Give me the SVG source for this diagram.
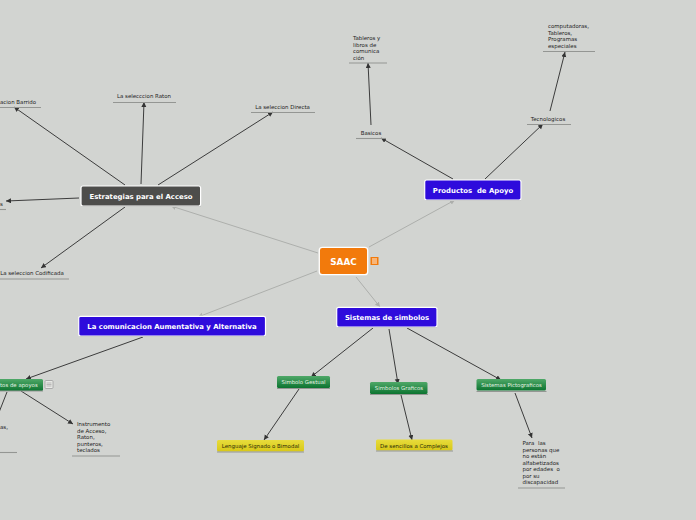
<svg xmlns="http://www.w3.org/2000/svg" width="696" height="520" viewBox="0 0 696 520">
<style>
text{font-family:"DejaVu Sans",Verdana,sans-serif}
.main{font-size:6.9px;font-weight:bold;fill:#fff;text-anchor:middle}
.blue{fill:#2e0bdc;stroke:#fff;stroke-width:1.2}
.shadow{fill:#9a9c99}
.sub{font-size:5.45px;fill:#222}
.mid{text-anchor:middle}
.green{font-size:5.4px;fill:#e4f2e4;text-anchor:middle}
.yellow{font-size:5.45px;fill:#2a2a08;text-anchor:middle}
.ul{stroke:#949693;stroke-width:1.1;fill:none}
.c1{stroke:#adafac;stroke-width:1;fill:none;marker-end:url(#ah1)}
.c2{stroke:#3c3c3c;stroke-width:1;fill:none;marker-end:url(#ah2)}
</style>
<defs>
<linearGradient id="gg" x1="0" y1="0" x2="0" y2="1"><stop offset="0" stop-color="#4fa868"/><stop offset="1" stop-color="#0c7430"/></linearGradient>
<linearGradient id="yg" x1="0" y1="0" x2="0" y2="1"><stop offset="0" stop-color="#e8dc3c"/><stop offset="1" stop-color="#d8c818"/></linearGradient>
<marker id="ah1" markerUnits="userSpaceOnUse" markerWidth="6" markerHeight="6" refX="5" refY="2.500" orient="auto"><path d="M0 0L5 2.500L0 5z" fill="#adafac"/></marker>
<marker id="ah2" markerUnits="userSpaceOnUse" markerWidth="6" markerHeight="6" refX="5" refY="2.500" orient="auto"><path d="M0 0L5 2.500L0 5z" fill="#333"/></marker>
</defs>
<rect width="696" height="520" fill="#d2d4d1"/>
<g id="connectors">
<path class="c1" d="M318 253L171 206"/>
<path class="c1" d="M317 271L198 317"/>
<path class="c1" d="M369 247L455 200"/>
<path class="c1" d="M356 277L380 307"/>
<path class="c2" d="M125 185L14 107"/>
<path class="c2" d="M141 184L144 102"/>
<path class="c2" d="M158 185L273 112"/>
<path class="c2" d="M79 198L6 201"/>
<path class="c2" d="M125 207L41 268"/>
<path class="c2" d="M143 337L26 379"/>
<path class="c2" d="M21 391L73 424"/>
<path class="c2" d="M7 392L-4 420"/>
<path class="c2" d="M453 179L381 138"/>
<path class="c2" d="M485 179L543 124"/>
<path class="c2" d="M371 125L368 63"/>
<path class="c2" d="M550 111L565 52"/>
<path class="c2" d="M373 328L311 377"/>
<path class="c2" d="M389 329L398 384"/>
<path class="c2" d="M407 328L501 380"/>
<path class="c2" d="M299 389L264 440"/>
<path class="c2" d="M401 395L412 440"/>
<path class="c2" d="M515 393L532 438"/>
</g>
<g id="saac"><rect x="319.300" y="247.300" width="48.400" height="27.400" rx="3" fill="#f27a0c" stroke="#fff" stroke-width="1.300"/><text x="343.500" y="265" class="main" style="font-size:8.800px">SAAC</text>
<rect x="370.500" y="257" width="8" height="8" fill="#f27a0c"/><path d="M372 259h5M372 261h5M372 263h5" stroke="#fff" stroke-width=".9"/></g>
<g id="estrategias"><rect x="81" y="187" width="120" height="20" rx="2" class="shadow"/><rect x="81" y="186" width="119.600" height="20" rx="2" fill="#4d4d4b" stroke="#fff" stroke-width="1.200"/><text x="141" y="199" class="main">Estrategias para el Acceso</text></g>
<g id="comunicacion"><rect x="78.700" y="317" width="187" height="20" rx="2" class="shadow"/><rect x="78.700" y="316.300" width="186.800" height="19.700" rx="2" class="blue"/><text x="172" y="329" class="main">La comunicacion Aumentativa y Alternativa</text></g>
<g id="productos"><rect x="424.700" y="181" width="96.500" height="20" rx="2" class="shadow"/><rect x="424.700" y="180" width="96.300" height="20" rx="2" class="blue"/><text x="473" y="193" class="main" xml:space="preserve">Productos  de Apoyo</text></g>
<g id="sistemas"><rect x="336.700" y="308" width="100.500" height="20" rx="2" class="shadow"/><rect x="336.700" y="307.300" width="100.300" height="19.700" rx="2" class="blue"/><text x="387" y="320" class="main">Sistemas de simbolos</text></g>
<g id="barrido"><text x="0" y="104" class="sub">acion Barrido</text><path class="ul" d="M0 107.500H41"/></g>
<g id="raton"><text x="144" y="98" class="sub mid">La selecccion Raton</text><path class="ul" d="M113 102.500H176"/></g>
<g id="directa"><text x="282.500" y="109" class="sub mid">La seleccion Directa</text><path class="ul" d="M251 112.500H315"/></g>
<g id="clipped"><text x="0" y="206" class="sub">s</text><path class="ul" d="M0 209.500H6"/></g>
<g id="codificada"><text x="32" y="275" class="sub mid">La seleccion Codificada</text><path class="ul" d="M0 279H69"/></g>
<g id="tableros"><text class="sub"><tspan x="353" y="40">Tableros y</tspan><tspan x="353" y="46.500">libros de</tspan><tspan x="353" y="53">comunica</tspan><tspan x="353" y="59.500">ción</tspan></text><path class="ul" d="M349 63H387"/></g>
<g id="basicos"><text x="371" y="135" class="sub mid">Basicos</text><path class="ul" d="M356 138.500H386"/></g>
<g id="computadoras"><text class="sub"><tspan x="548" y="28">computadoras,</tspan><tspan x="548" y="35">Tableros,</tspan><tspan x="548" y="41">Programas</tspan><tspan x="548" y="48">especiales</tspan></text><path class="ul" d="M543 51.500H595"/></g>
<g id="tecnologicos"><text x="548" y="121" class="sub mid">Tecnologicos</text><path class="ul" d="M527 124.500H571"/></g>
<g id="apoyos"><rect x="-4" y="379" width="47" height="12" rx="1.500" fill="url(#gg)"/><path class="ul" d="M0 391H43"/><text x="0" y="387" style="font-size:5.400px;fill:#e4f2e4">tos de apoyos</text>
<rect x="45" y="380.500" width="8" height="8" rx="1" fill="#e8e9e6" stroke="#a5a5a5" stroke-width=".9"/><path d="M46.500 383h5M46.500 384.500h5M46.500 386h5" stroke="#999" stroke-width=".6"/></g>
<g id="clipped2"><text x="0" y="429" class="sub">as,</text><path class="ul" d="M0 452.500H17"/></g>
<g id="instrumento"><text class="sub"><tspan x="77" y="426">Instrumento</tspan><tspan x="77" y="433">de Acceso,</tspan><tspan x="77" y="439">Raton,</tspan><tspan x="77" y="446">punteros,</tspan><tspan x="77" y="452">teclados</tspan></text><path class="ul" d="M72 456H120"/></g>
<g id="gestual"><rect x="277" y="376" width="53" height="12" rx="1.500" fill="url(#gg)"/><path class="ul" d="M277 388.500H330"/><text x="303.500" y="384" class="green">Simbolo Gestual</text></g>
<g id="graficos"><rect x="370" y="382" width="57.500" height="12" rx="1.500" fill="url(#gg)"/><path class="ul" d="M370 394.500H428"/><text x="399" y="390" class="green">Simbolos Graficos</text></g>
<g id="pictograficos"><rect x="476.500" y="379" width="69.500" height="11.500" rx="1.500" fill="url(#gg)"/><path class="ul" d="M476.500 391.500H546.500"/><text x="511.500" y="387" class="green">Sistemas Pictograficos</text></g>
<g id="lenguaje"><rect x="217" y="440" width="87" height="11.500" rx="1.500" fill="url(#yg)"/><path class="ul" d="M217 452H304"/><text x="260.500" y="448" class="yellow">Lenguaje Signado o Bimodal</text></g>
<g id="sencillos"><rect x="376" y="439.500" width="76.500" height="11" rx="1.500" fill="url(#yg)"/><path class="ul" d="M376 451H453"/><text x="414" y="447.500" class="yellow">De sencillos a Complejos</text></g>
<g id="personas"><text class="sub" xml:space="preserve"><tspan x="522.500" y="445">Para  las</tspan><tspan x="522.500" y="452">personas que</tspan><tspan x="522.500" y="458">no están</tspan><tspan x="522.500" y="465">alfabetizados</tspan><tspan x="522.500" y="471">por edades  o</tspan><tspan x="522.500" y="478">por su</tspan><tspan x="522.500" y="484">discapacidad</tspan></text><path class="ul" d="M518 488H565"/></g>
</svg>
